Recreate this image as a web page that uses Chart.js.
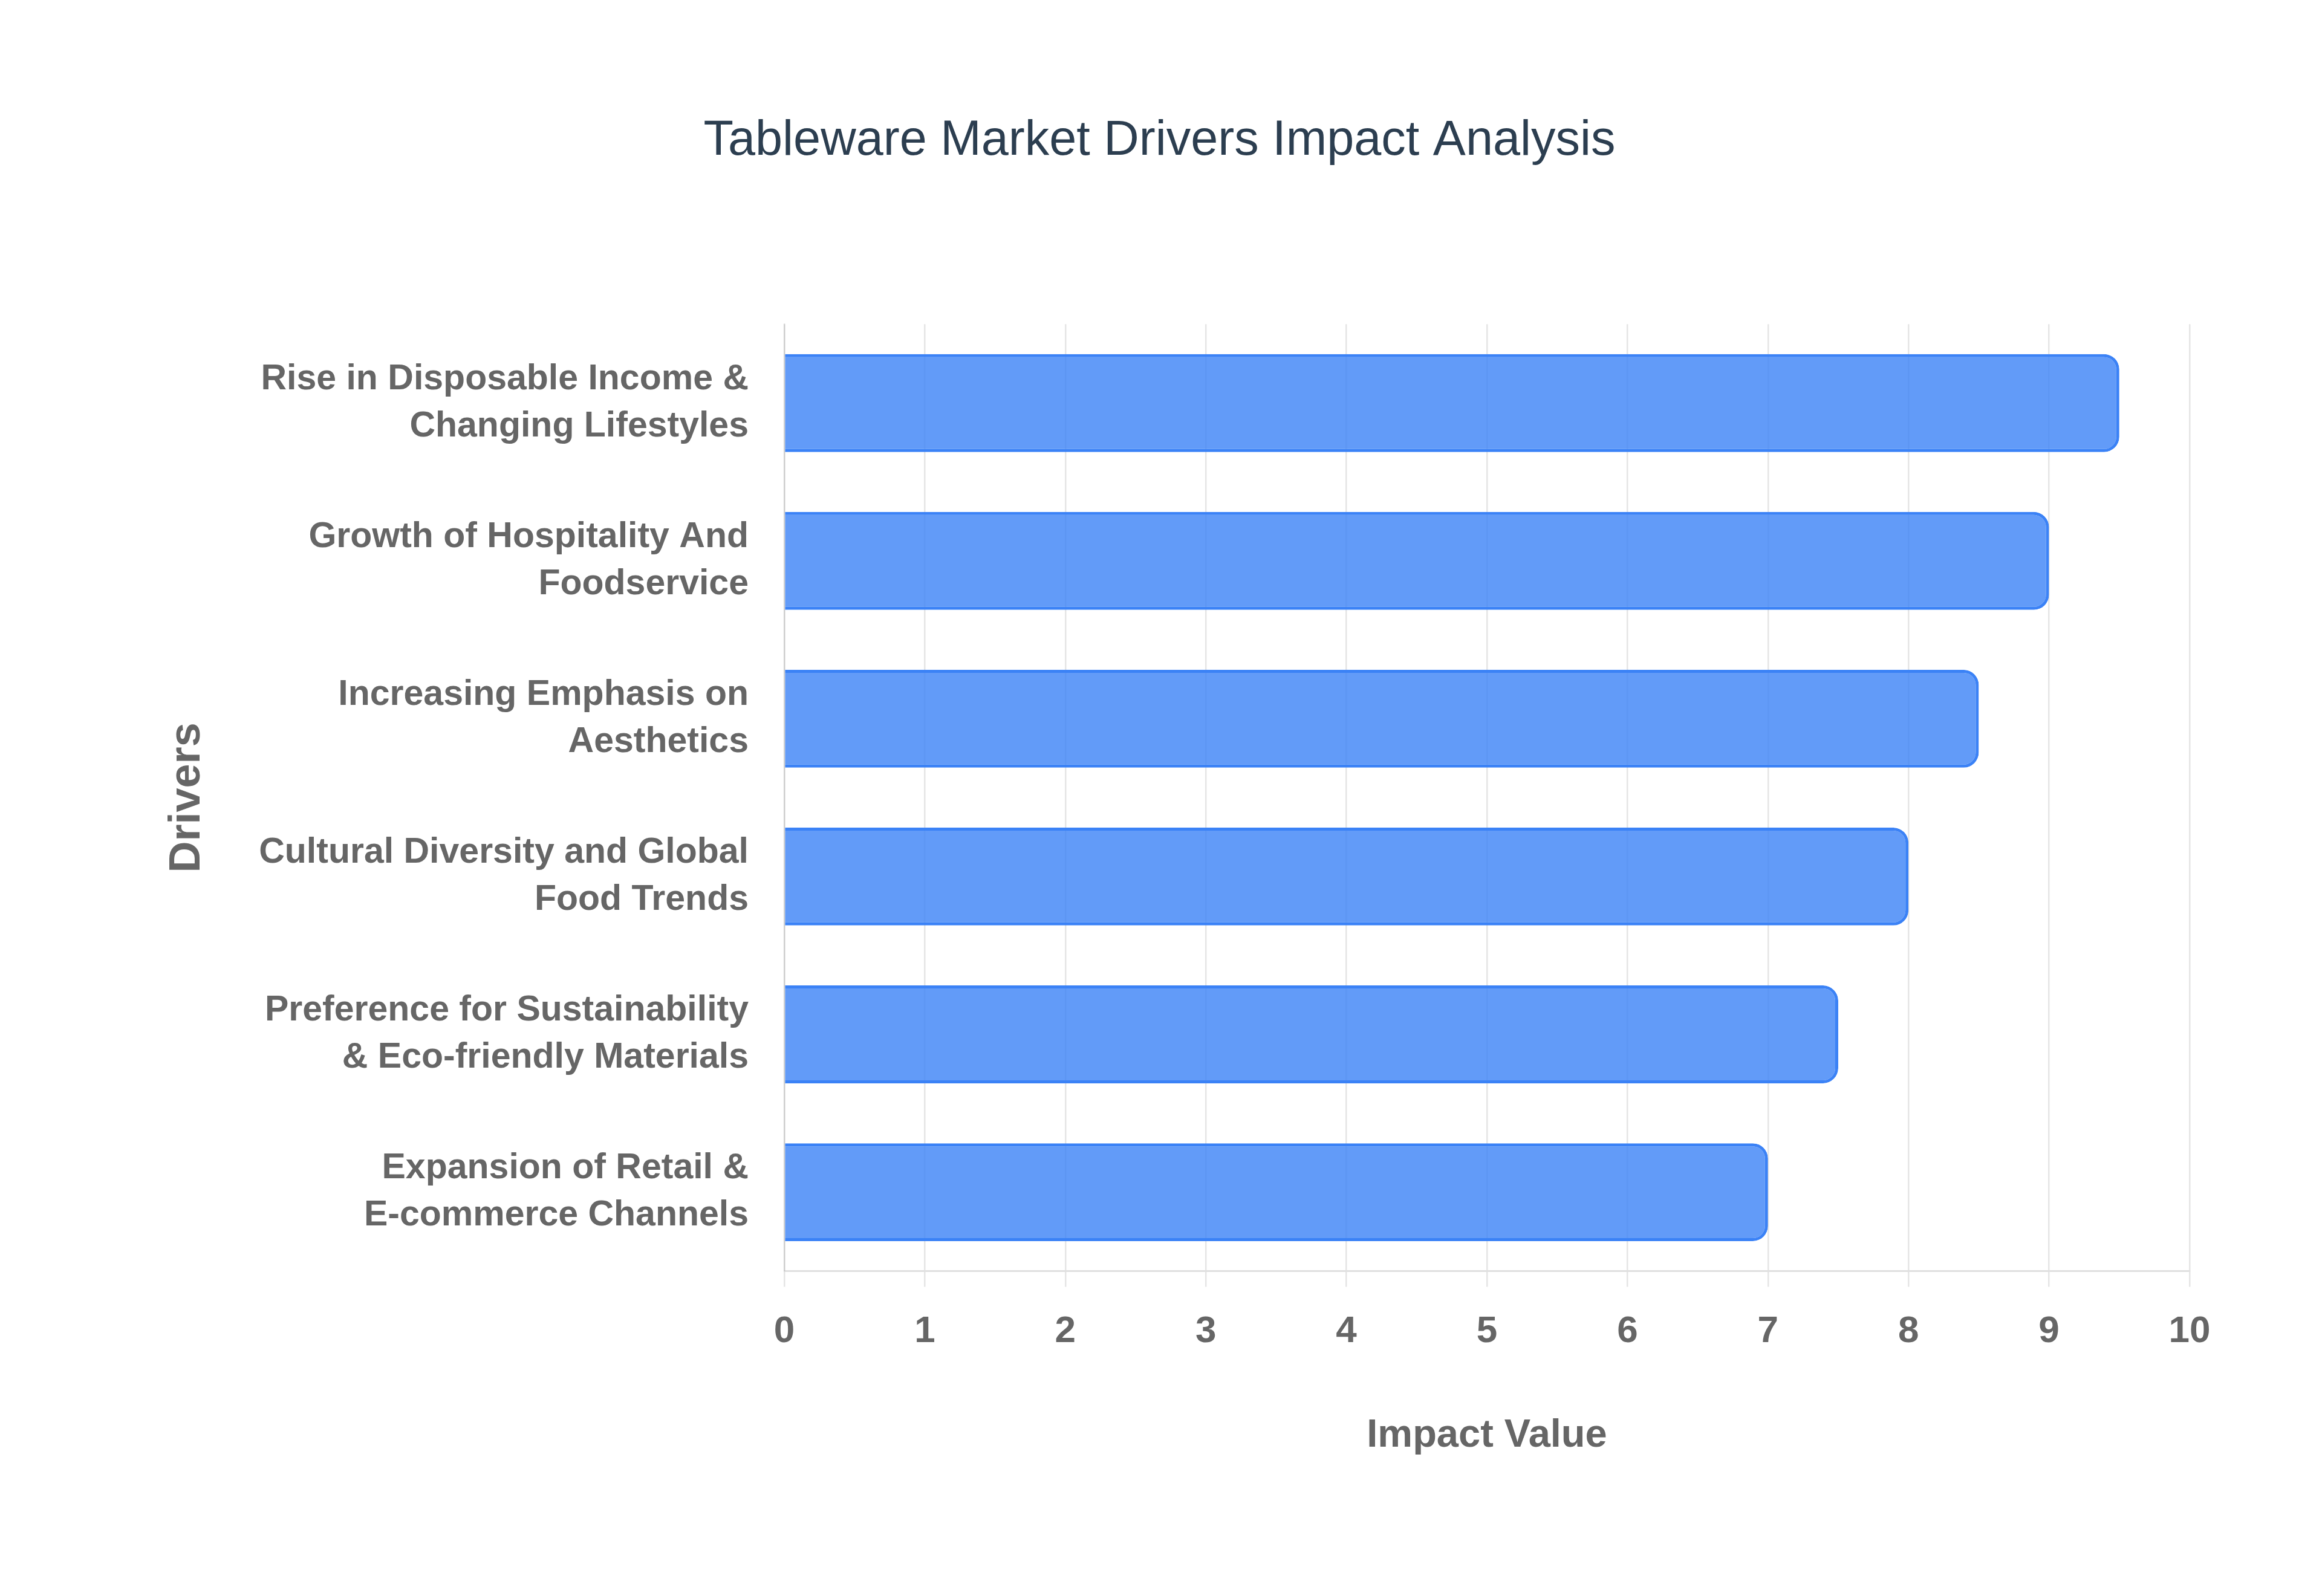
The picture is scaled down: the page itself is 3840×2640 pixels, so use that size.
<!DOCTYPE html>
<html>
<head>
<meta charset="utf-8">
<title>Tableware Market Drivers Impact Analysis</title>
<script src="https://cdn.jsdelivr.net/npm/chart.js@4.4.1/dist/chart.umd.min.js"></script>
<style>
  html, body { margin: 0; padding: 0; background: #fff; }
  #wrap { width: 3840px; height: 2640px; }
</style>
</head>
<body>
<div id="wrap"><canvas id="chart"></canvas></div>
<script>
const drivers = [
  ['Rise in Disposable Income &', 'Changing Lifestyles'],
  ['Growth of Hospitality And', 'Foodservice'],
  ['Increasing Emphasis on', 'Aesthetics'],
  ['Cultural Diversity and Global', 'Food Trends'],
  ['Preference for Sustainability', '& Eco-friendly Materials'],
  ['Expansion of Retail &', 'E-commerce Channels']
];
const impactValues = [9.5, 9, 8.5, 8, 7.5, 7];
const xTicks = [0, 1, 2, 3, 4, 5, 6, 7, 8, 9, 10];

const FONT = '"Liberation Sans", Helvetica, Arial, sans-serif';
const PAD_LEFT = 214;
const PLOT_LEFT = 1297;

const ctx = document.getElementById('chart');
new Chart(ctx, {
  type: 'bar',
  data: {
    labels: drivers,
    datasets: [{
      label: 'Impact Value',
      data: impactValues,
      backgroundColor: 'rgba(59,130,246,0.8)',
      borderColor: 'rgb(59,130,246)',
      borderWidth: 5,
      borderRadius: 25,
      categoryPercentage: 1.0,
      barPercentage: 0.62
    }]
  },
  options: {
    indexAxis: 'y',
    responsive: true,
    maintainAspectRatio: false,
    devicePixelRatio: 1,
    animation: false,
    layout: { padding: { top: 185, right: 219, bottom: 226, left: PAD_LEFT } },
    plugins: {
      legend: { display: false },
      tooltip: { enabled: false },
      title: {
        display: true,
        text: 'Tableware Market Drivers Impact Analysis',
        color: '#2c3e50',
        font: { family: FONT, size: 81, weight: 'normal', lineHeight: 1.2 },
        padding: { top: 0, bottom: 254 }
      }
    },
    scales: {
      x: {
        min: 0,
        max: 10,
        afterBuildTicks: (scale) => { scale.ticks = xTicks.map(v => ({ value: v })); },
        ticks: {
          color: '#666',
          font: { family: FONT, size: 62, weight: 'bold' },
          padding: 37
        },
        grid: { color: 'rgba(0,0,0,0.1)', lineWidth: 2.5, tickLength: 26 },
        border: { color: 'rgba(0,0,0,0.12)', width: 3 },
        title: {
          display: true,
          text: 'Impact Value',
          color: '#666',
          font: { family: FONT, size: 65, weight: 'bold', lineHeight: 1.2 },
          padding: { top: 59, bottom: 0 }
        }
      },
      y: {
        afterFit: (scale) => { scale.width = PLOT_LEFT - PAD_LEFT; },
        ticks: {
          color: '#666',
          font: { family: FONT, size: 59, weight: 'bold', lineHeight: 1.32 },
          padding: 51
        },
        grid: { display: false },
        border: { color: 'rgba(0,0,0,0.1)', width: 2.5 },
        title: {
          display: true,
          text: 'Drivers',
          color: '#666',
          font: { family: FONT, size: 72, weight: 'bold', lineHeight: 1.2 },
          padding: { top: 53, bottom: 0 }
        }
      }
    }
  }
});
</script>
</body>
</html>
